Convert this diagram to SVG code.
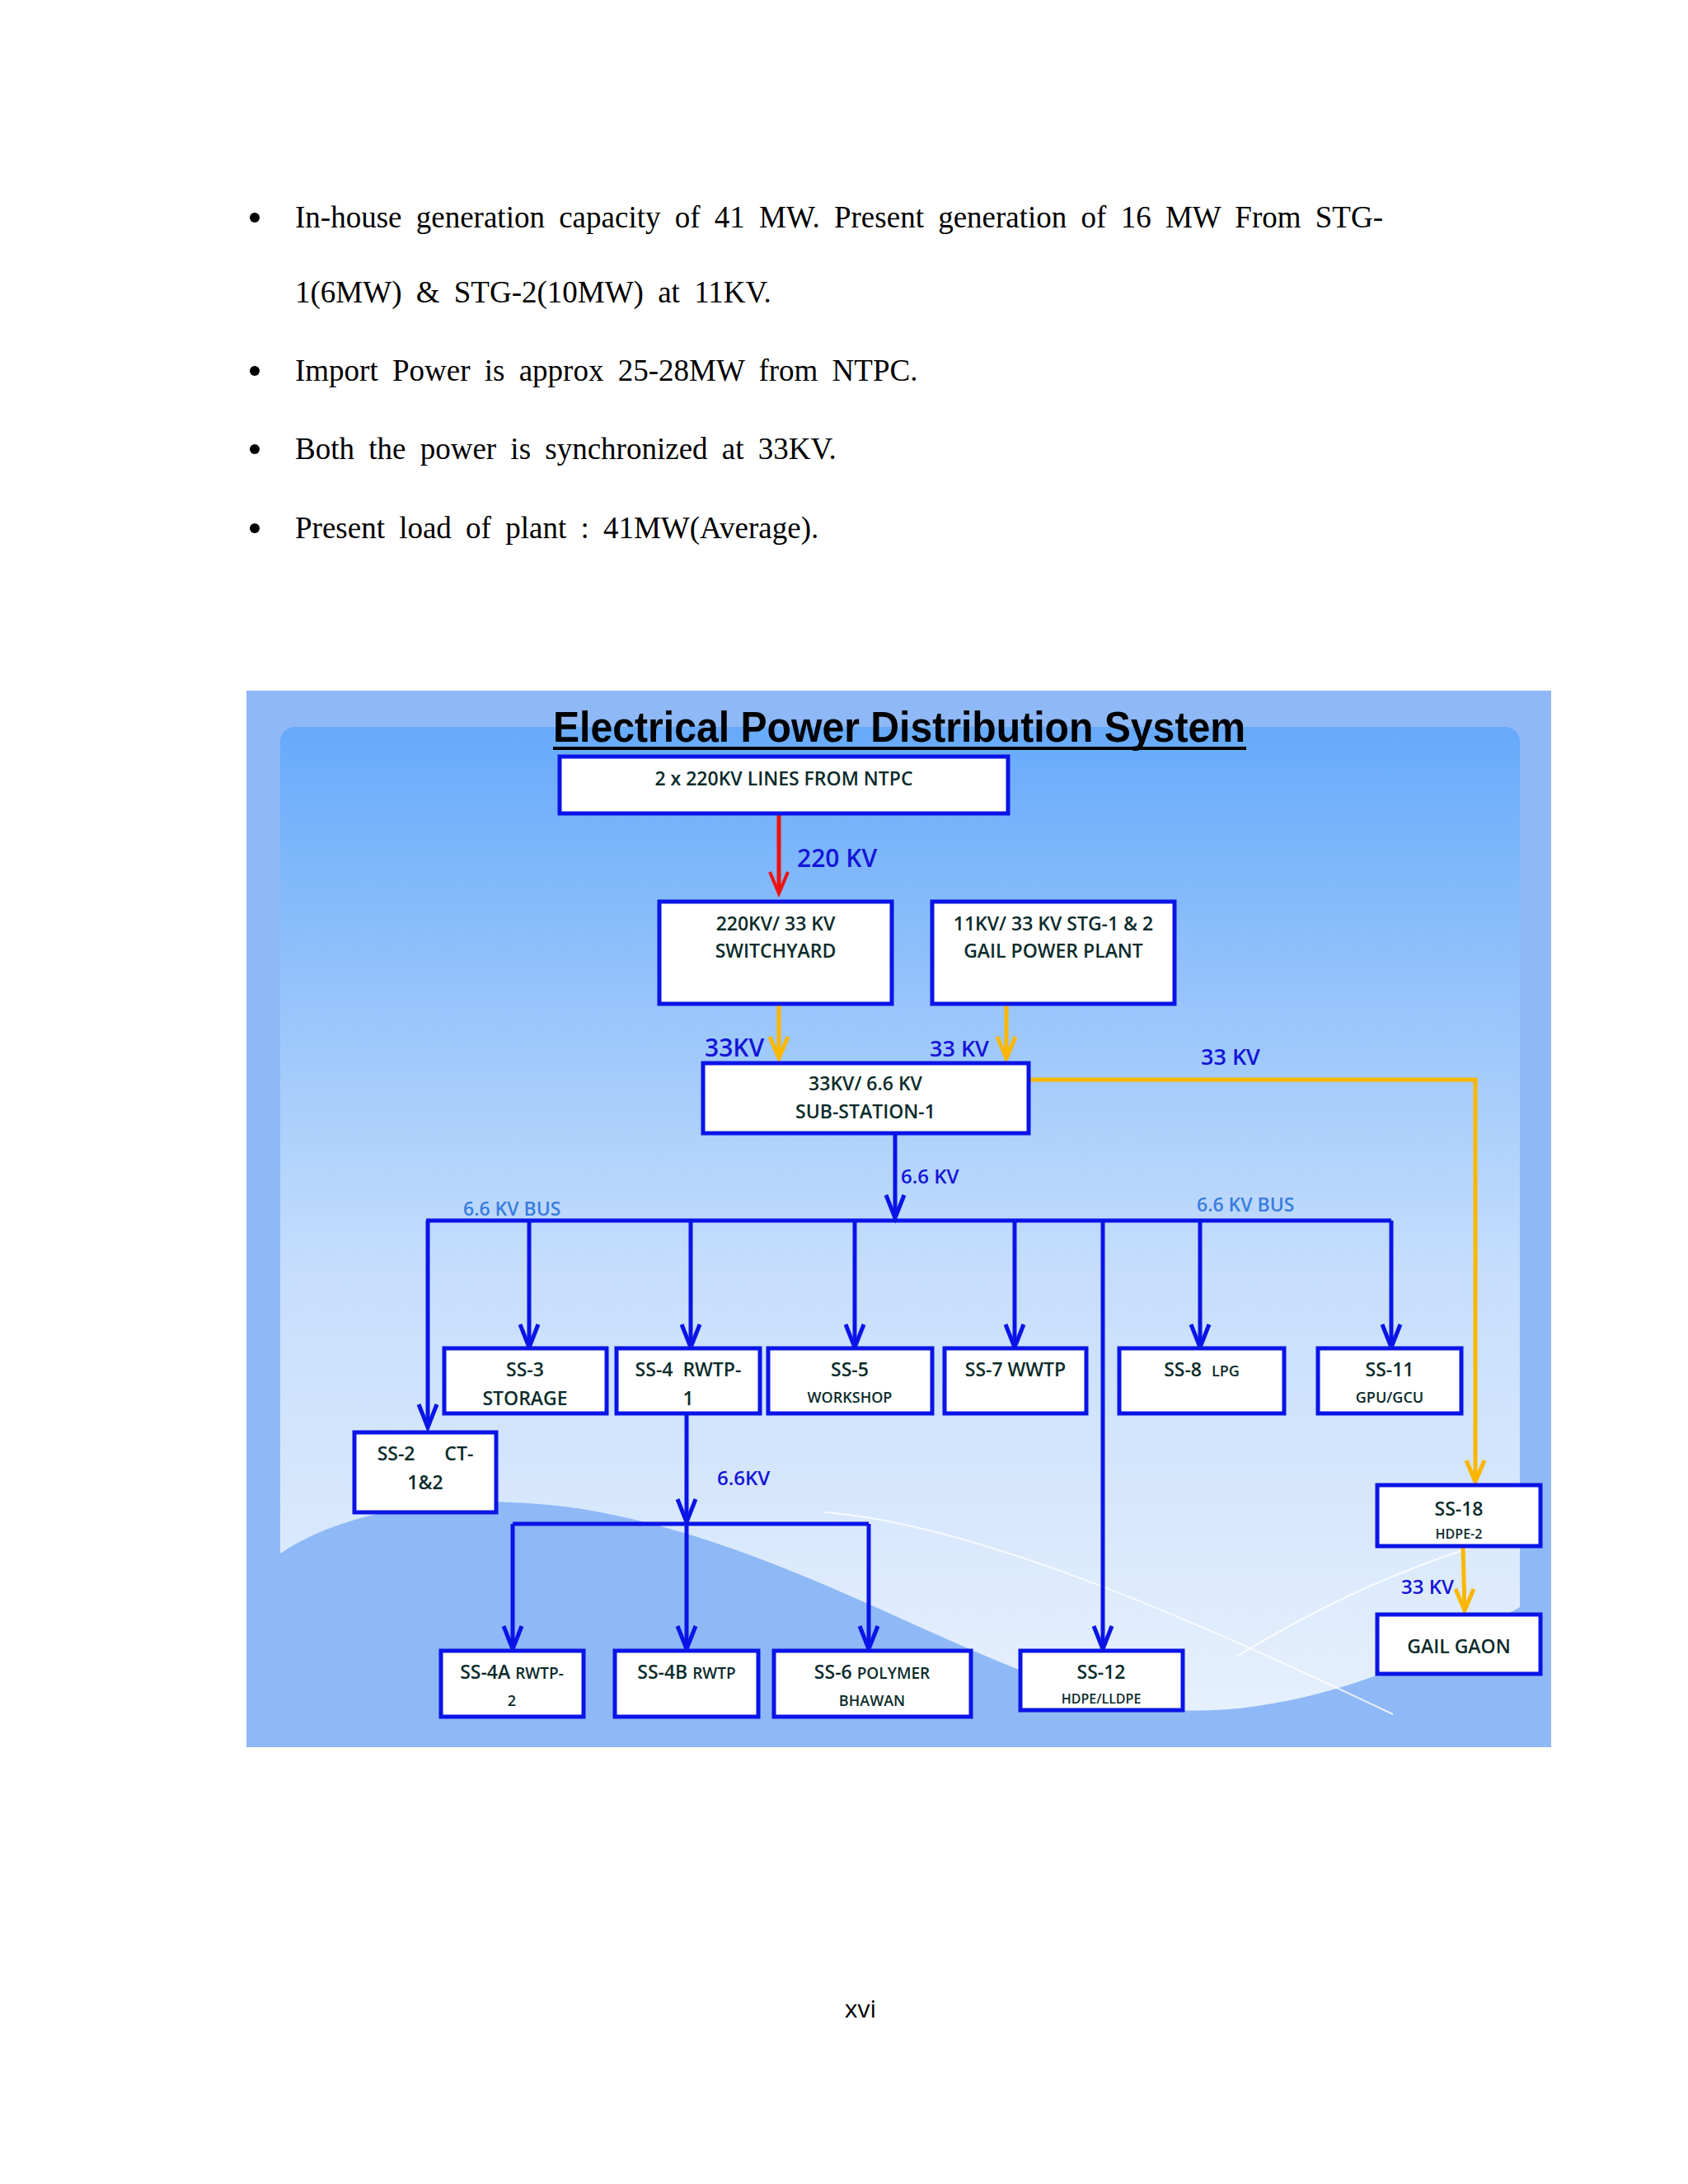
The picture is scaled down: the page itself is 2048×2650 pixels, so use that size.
<svg xmlns="http://www.w3.org/2000/svg" width="2048" height="2650" viewBox="0 0 2048 2650">
<defs>
<linearGradient id="bg" x1="0" y1="0" x2="0" y2="1">
<stop offset="0" stop-color="#66aafa"/><stop offset="0.55" stop-color="#c6defc"/><stop offset="1" stop-color="#e6f0fd"/>
</linearGradient>
<path id="ah" d="M-11,-28 L0,0 L11,-28" fill="none" stroke="#0a14e6" stroke-width="5"/>
</defs>
<style>
.bl{fill:none;stroke:#0a14e6;stroke-width:5}
.yl{fill:none;stroke:#fbb700;stroke-width:5}
.box{fill:#fff;stroke:#0a14e6;stroke-width:5}
.t{font-family:"Open Sans","Liberation Sans",sans-serif;font-size:23px;font-weight:600;fill:#0b2b2b;text-anchor:middle}
.s{font-size:18px}
.xs{font-size:16px}
.lb{font-family:"Open Sans","Liberation Sans",sans-serif;font-weight:600;fill:#1414d8;font-size:25px}
.bus{font-family:"Open Sans","Liberation Sans",sans-serif;font-weight:600;fill:#3a7ce0;font-size:23px}
.p{font-family:"Liberation Serif",serif;font-size:37px;fill:#000;word-spacing:8px}
</style>
<rect width="2048" height="2650" fill="#fff"/>
<g id="text">
<circle cx="309" cy="264" r="6"/><circle cx="309" cy="450" r="6"/><circle cx="309" cy="545" r="6"/><circle cx="309" cy="641" r="6"/>
<text class="p" x="358" y="276" textLength="1320">In-house  generation  capacity  of 41 MW. Present  generation  of 16 MW From  STG-</text>
<text class="p" x="358" y="367">1(6MW) &amp; STG-2(10MW)  at 11KV.</text>
<text class="p" x="358" y="462">Import  Power is  approx  25-28MW from  NTPC.</text>
<text class="p" x="358" y="557">Both  the  power  is synchronized   at 33KV.</text>
<text class="p" x="358" y="653">Present  load  of plant  : 41MW(Average).</text>
<text x="1044" y="2448" font-family="Open Sans,sans-serif" font-size="30" text-anchor="middle">xvi</text>
</g>
<g id="background">
<rect x="299" y="838" width="1583" height="1282" fill="#8fb8f6"/>
<rect x="340" y="882" width="1504" height="1200" rx="18" fill="url(#bg)"/>
<path d="M340,1885 C420,1830 560,1810 700,1830 C950,1870 1150,2010 1350,2065 C1550,2110 1760,2000 1844,1950 L1844,2120 L340,2120 Z" fill="#8fb8f6"/>
<path d="M1000,1835 C1200,1850 1500,1990 1690,2080" fill="none" stroke="#fff" stroke-width="2" opacity="0.8"/>
<path d="M1500,2010 C1600,1950 1700,1900 1844,1860" fill="none" stroke="#fff" stroke-width="2" opacity="0.8"/>
<text x="1091" y="900" font-family="Liberation Sans,Arial,sans-serif" font-weight="700" font-size="52" text-anchor="middle" fill="#000" textLength="840" lengthAdjust="spacingAndGlyphs">Electrical Power Distribution System</text>
<line x1="671" y1="908" x2="1512" y2="908" stroke="#000" stroke-width="4"/>
</g>
<g id="connectors">
<line x1="945" y1="987" x2="945" y2="1080" stroke="#ee1010" stroke-width="5"/>
<path d="M934,1058 L945,1084 L956,1058" fill="none" stroke="#ee1010" stroke-width="4"/>
<path class="yl" d="M945,1218 V1282 M934,1258 L945,1284 L956,1258"/>
<path class="yl" d="M1221,1218 V1282 M1210,1258 L1221,1284 L1232,1258"/>
<path class="yl" d="M1248,1310 H1790 V1796 M1779,1772 L1790,1798 L1801,1772"/>
<path class="yl" d="M1775,1876 L1777,1952 M1766,1928 L1777,1954 L1788,1928"/>
<path class="bl" d="M1086,1375 V1477"/>
<path class="bl" d="M517,1481 H1688" stroke-width="6"/>
<path class="bl" d="M519,1481 V1732"/><use href="#ah" x="519" y="1732"/>
<path class="bl" d="M642,1481 V1635"/><use href="#ah" x="642" y="1635"/>
<path class="bl" d="M838,1481 V1635"/><use href="#ah" x="838" y="1635"/>
<path class="bl" d="M1037,1481 V1635"/><use href="#ah" x="1037" y="1635"/>
<path class="bl" d="M1231,1481 V1635"/><use href="#ah" x="1231" y="1635"/>
<path class="bl" d="M1338,1481 V2001"/><use href="#ah" x="1338" y="2001"/>
<path class="bl" d="M1456,1481 V1635"/><use href="#ah" x="1456" y="1635"/>
<path class="bl" d="M1688,1481 V1635"/><use href="#ah" x="1688" y="1635"/>
<use href="#ah" x="1086" y="1478"/>
<path class="bl" d="M833,1715 V1847"/><use href="#ah" x="833" y="1847"/>
<path class="bl" d="M622,1849 H1054" stroke-width="7"/>
<path class="bl" d="M622,1849 V2001"/><use href="#ah" x="622" y="2001"/>
<path class="bl" d="M833,1849 V2001"/><use href="#ah" x="833" y="2001"/>
<path class="bl" d="M1054,1849 V2001"/><use href="#ah" x="1054" y="2001"/>
<text class="lb" x="967" y="1052" style="font-size:30px">220 KV</text>
<text class="lb" x="855" y="1282" style="font-size:30px">33KV</text>
<text class="lb" x="1128" y="1282" style="font-size:27px">33 KV</text>
<text class="lb" x="1457" y="1292" style="font-size:27px">33 KV</text>
<text class="lb" x="1093" y="1436" style="font-size:24px">6.6 KV</text>
<text class="bus" x="562" y="1475">6.6 KV BUS</text>
<text class="bus" x="1452" y="1470">6.6 KV BUS</text>
<text class="lb" x="870" y="1802" style="font-size:24px">6.6KV</text>
<text class="lb" x="1700" y="1934" style="font-size:24px">33 KV</text>
</g>
<g id="n-ntpc"><rect class="box" x="679" y="918" width="544" height="69"/><text class="t" x="951" y="953">2 x 220KV LINES FROM NTPC</text></g>
<g id="n-sy"><rect class="box" x="800" y="1094" width="282" height="124"/><text class="t" x="941" y="1129">220KV/ 33 KV</text><text class="t" x="941" y="1162">SWITCHYARD</text></g>
<g id="n-stg"><rect class="box" x="1131" y="1094" width="294" height="124"/><text class="t" x="1278" y="1129">11KV/ 33 KV STG-1 &amp; 2</text><text class="t" x="1278" y="1162">GAIL POWER PLANT</text></g>
<g id="n-ss1"><rect class="box" x="853" y="1290" width="395" height="85"/><text class="t" x="1050" y="1323">33KV/ 6.6 KV</text><text class="t" x="1050" y="1357">SUB-STATION-1</text></g>
<g id="n-ss3"><rect class="box" x="539" y="1636" width="197" height="79"/><text class="t" x="637" y="1670">SS-3</text><text class="t" x="637" y="1705">STORAGE</text></g>
<g id="n-ss4"><rect class="box" x="748" y="1636" width="174" height="79"/><text class="t" x="835" y="1670" xml:space="preserve">SS-4  RWTP-</text><text class="t" x="835" y="1705">1</text></g>
<g id="n-ss5"><rect class="box" x="932" y="1636" width="199" height="79"/><text class="t s" x="1031" y="1670" style="font-size:23px">SS-5</text><text class="t s" x="1031" y="1702">WORKSHOP</text></g>
<g id="n-ss7"><rect class="box" x="1146" y="1636" width="172" height="79"/><text class="t" x="1232" y="1670">SS-7 WWTP</text></g>
<g id="n-ss8"><rect class="box" x="1358" y="1636" width="200" height="79"/><text class="t" x="1458" y="1670" xml:space="preserve">SS-8  <tspan style="font-size:18px">LPG</tspan></text></g>
<g id="n-ss11"><rect class="box" x="1599" y="1636" width="174" height="79"/><text class="t" x="1686" y="1670">SS-11</text><text class="t s" x="1686" y="1702">GPU/GCU</text></g>
<g id="n-ss2"><rect class="box" x="430" y="1738" width="172" height="97"/><text class="t" x="516" y="1772" xml:space="preserve">SS-2      CT-</text><text class="t" x="516" y="1807">1&amp;2</text></g>
<g id="n-ss4a"><rect class="box" x="535" y="2003" width="173" height="80"/><text class="t" x="621" y="2037">SS-4A <tspan style="font-size:19px">RWTP-</tspan></text><text class="t s" x="621" y="2070">2</text></g>
<g id="n-ss4b"><rect class="box" x="746" y="2003" width="174" height="80"/><text class="t" x="833" y="2037">SS-4B <tspan style="font-size:19px">RWTP</tspan></text></g>
<g id="n-ss6"><rect class="box" x="939" y="2003" width="239" height="80"/><text class="t" x="1058" y="2037">SS-6 <tspan style="font-size:19px">POLYMER</tspan></text><text class="t s" x="1058" y="2070">BHAWAN</text></g>
<g id="n-ss12"><rect class="box" x="1238" y="2003" width="197" height="72"/><text class="t" x="1336" y="2037">SS-12</text><text class="t xs" x="1336" y="2067">HDPE/LLDPE</text></g>
<g id="n-ss18"><rect class="box" x="1671" y="1802" width="198" height="74"/><text class="t" x="1770" y="1839">SS-18</text><text class="t xs" x="1770" y="1867">HDPE-2</text></g>
<g id="n-gail"><rect class="box" x="1671" y="1959" width="198" height="72"/><text class="t" x="1770" y="2006">GAIL GAON</text></g>
</svg>
